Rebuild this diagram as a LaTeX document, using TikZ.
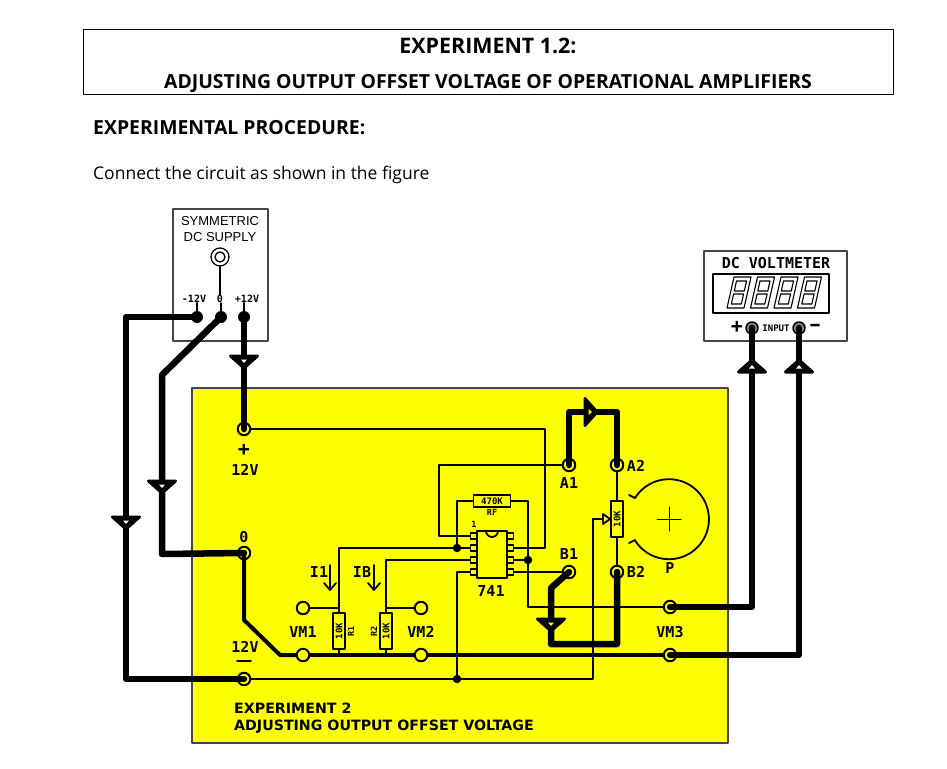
\documentclass[tikz,border=0pt]{standalone}
\usepackage{fontspec}
\setmainfont{Open Sans}
\setsansfont{Liberation Sans}
\setmonofont{DejaVu Sans Mono}
\newfontfamily\boardfont{DejaVu Sans}
\definecolor{boardcolor}{RGB}{255,255,0}
\definecolor{edgecolor}{RGB}{70,70,70}

\begin{document}
\begin{tikzpicture}[x=1pt,y=-1pt,line join=round,line cap=round,
  thinwire/.style={line width=1.8pt},
  midwire/.style={line width=4pt},
  thickwire/.style={line width=6.5pt},
  jack/.style={circle,draw,fill=boardcolor,line width=2pt,minimum size=12.5pt,inner sep=0pt},
  meterjack/.style={circle,draw,fill=gray,line width=1.5pt,minimum size=12pt,inner sep=0pt},
  dotnode/.style={circle,fill=black,minimum size=8.5pt,inner sep=0pt},
  resistor/.style={rectangle,draw,fill=boardcolor,line width=1.5pt,inner sep=0pt},
  icpin/.style={rectangle,draw,fill=boardcolor,line width=1.3pt,minimum size=6pt,inner sep=0pt},
  bigtitle/.style={font=\fontsize{21.4}{22}\selectfont\bfseries,inner sep=0pt},
  titletext/.style={font=\fontsize{19.4}{20}\selectfont\bfseries,inner sep=0pt},
  bodytext/.style={font=\fontsize{17.5}{20}\selectfont,inner sep=0pt,anchor=west},
  boardtext/.style={font=\boardfont\fontsize{14.2}{14}\selectfont\bfseries,inner sep=0pt,anchor=west},
  bigmono/.style={font=\ttfamily\fontsize{15}{15}\selectfont\bfseries,inner sep=0pt},
  smallmono/.style={font=\ttfamily\fontsize{9}{9}\selectfont\bfseries,inner sep=0pt},
  supmono/.style={font=\ttfamily\fontsize{10}{10}\selectfont\bfseries,inner sep=0pt},
  tinymono/.style={font=\ttfamily\fontsize{8.5}{8.5}\selectfont\bfseries,inner sep=0pt},
  supplytext/.style={font=\sffamily\fontsize{13}{14}\selectfont,inner sep=0pt},
  pics/wiretip/.style={code={
    \fill[black,draw=black,line width=3pt] (-13.5,-6) -- (13.5,-6) -- (0,6) -- cycle;
    \fill[#1] (-3,-2.5) -- (3,-2.5) -- (0,1) -- cycle;
  }},
  pics/segdigit/.style={code={
    \draw[line width=1.1pt] (7,-2) -- (24,-2) -- (17,29) -- (0,29) -- cycle;
    \draw[line width=1.1pt] (9.5,2) -- (19.5,2) -- (17.3,12) -- (7.3,12) -- cycle;
    \draw[line width=1.1pt] (6.6,15) -- (16.6,15) -- (14.3,25) -- (4.3,25) -- cycle;
  }}
]
\useasboundingbox (0,0) rectangle (947,768);

% the heading
\draw[line width=1pt] (83,30) rectangle (893,94);
\node[bigtitle] (title1) at (488,46) {EXPERIMENT 1.2:};
\node[titletext] (title2) at (488,84) {ADJUSTING OUTPUT OFFSET VOLTAGE OF OPERATIONAL AMPLIFIERS};
\node[titletext,anchor=west] (procedure) at (93,128) {EXPERIMENTAL PROCEDURE:};
\node[bodytext] (connect) at (93,175) {Connect the circuit as shown in the figure};

% the board
\draw[draw=edgecolor,fill=boardcolor,line width=1.5pt] (192,388) rectangle (728,743);
\node[boardtext] (board1) at (234,708) {EXPERIMENT 2};
\node[boardtext] (board2) at (234,727) {ADJUSTING OUTPUT OFFSET VOLTAGE};

% the supply
\draw[draw=edgecolor,line width=1.2pt] (173,209) rectangle (268,341);
\node[supplytext] (sup1) at (220,221) {SYMMETRIC};
\node[supplytext] (sup2) at (220,237) {DC SUPPLY};
\node[circle,draw,line width=1.3pt,minimum size=18pt,inner sep=0pt] (supout) at (220,257) {};
\node[circle,draw,line width=1.3pt,minimum size=10pt,inner sep=0pt] (supin) at (220,257) {};
\node[supmono] (supneg) at (194,299) {-12V};
\node[supmono] (supzero) at (220,299) {0};
\node[supmono] (suppos) at (247,299) {+12V};
\coordinate (sn) at (197,317);
\coordinate (sz) at (221,317);
\coordinate (sp) at (244,317);
\draw[thinwire] (supout) -- (supzero);
\foreach \c/\l in {sn/supneg,sz/supzero,sp/suppos}
    \draw[thinwire] (\c) -- (\c |- \l.south);

% the voltmeter
\draw[draw=edgecolor,line width=1.3pt] (704,251) rectangle (847,341);
\node[bigmono] (vtitle) at (776,263) {DC VOLTMETER};
\draw[line width=1.3pt] (713,274) rectangle (829,313);
\foreach \i in {0,1,2,3}
    \pic at (727+\i*23.5,279) {segdigit};
\node[meterjack] (vp) at (752,328) {};
\node[meterjack] (vn) at (799,328) {};
\node[font=\bfseries\fontsize{22}{22}\selectfont,inner sep=0pt] (vplus) at (737,328) {+};
\node[font=\bfseries\fontsize{22}{22}\selectfont,inner sep=0pt] (vminus) at (815,328) {–};
\node[smallmono] (vinput) at (776,328) {INPUT};

% the board jacks
\foreach \n/\x/\y in {plus/244/429,zero/244/553,minus/244/679,a1/569/465,a2/617/465,b1/569/572,b2/617/572,
    vma/303/608,vmb/303/655,vmc/421/608,vmd/421/655,vme/670/607,vmf/670/655}
    \node[jack] (\n) at (\x,\y) {};

% the chip
\draw[thinwire,fill=boardcolor] (477,531) rectangle (507,578);
\draw[thinwire] (486,531) arc[start angle=180,end angle=0,radius=6];
\foreach \i/\y in {1/536,2/548,3/560,4/572} {
    \node[icpin] (pl\i) at (473.5,\y) {};
    \node[icpin] (pr\i) at (510.5,\y) {};
}
\node[dotnode] (d1) at (457,548) {};
\node[dotnode] (d2) at (528,560) {};
\node[dotnode] (d3) at (457,679) {};

% the parts
\node[resistor,minimum width=12pt,minimum height=36pt] (r1) at (339,631) {};
\node[resistor,minimum width=12pt,minimum height=36pt] (r2) at (386,631) {};
\node[resistor,minimum width=37pt,minimum height=12pt] (rf) at (492,501) {};
\node[resistor,minimum width=12pt,minimum height=36pt] (pot) at (617,519) {};
\node[smallmono,rotate=90] (r1val) at (r1) {10K};
\node[smallmono,rotate=90] (r2val) at (r2) {10K};
\node[smallmono,rotate=90] (potval) at (pot) {10K};
\node[smallmono] (rfval) at (rf) {470K};
\node[tinymono] (rflab) at (492,512) {RF};
\node[tinymono,rotate=90] (r1lab) at (351,631) {R1};
\node[tinymono,rotate=90] (r2lab) at (374,631) {R2};
\node[tinymono] (pin1) at (474,524) {1};

% the dial
\draw[thinwire] (629,495) -- (635,498) arc[start angle=212,end angle=508,radius=40];
\draw[thinwire] (635,540) -- (629,543);
\draw[line width=1pt] (657,519) -- (681,519);
\draw[line width=1pt] (669,507) -- (669,531);

% the labels
\node[font=\bfseries\fontsize{22}{22}\selectfont,inner sep=0pt] (lplus) at (244,451) {+};
\node[bigmono] (l12a) at (245,470) {12V};
\node[bigmono] (lzero) at (244,537) {0};
\node[bigmono] (l12b) at (245,647) {12V};
\draw[thinwire] (237,661) -- (251,661);
\node[bigmono] (la1) at (569,483) {A1};
\node[bigmono] (la2) at (636,466) {A2};
\node[bigmono] (lb1) at (569,554) {B1};
\node[bigmono] (lb2) at (636,572) {B2};
\node[bigmono] (lp) at (670,568) {P};
\node[bigmono] (lvm1) at (303,632) {VM1};
\node[bigmono] (lvm2) at (421,632) {VM2};
\node[bigmono] (lvm3) at (670,632) {VM3};
\node[bigmono] (lic) at (491,591) {741};
\node[bigmono] (li1) at (319,572) {I1};
\node[bigmono] (lib) at (362,572) {IB};
\draw[thinwire] (330,565) -- (330,589) (324,583) -- (330,590) -- (336,583);
\draw[thinwire] (374,565) -- (374,589) (368,583) -- (374,590) -- (380,583);

% the internal wires
\draw[thinwire] (plus) -| (545,548) -- (pr2);
\draw[thinwire] (a1) -| (439,536) -- (pl1);
\draw[thinwire] (pl2) -- (d1) -- (339,548) -- (r1);
\draw[thinwire] (d1) |- (rf);
\draw[thinwire] (rf) -| (d2);
\draw[thinwire] (pr3) -- (d2);
\draw[thinwire] (d2) |- (vme);
\draw[thinwire] (pr4) -- (b1);
\draw[thinwire] (pl3) -| (r2);
\draw[thinwire] (pl4) -| (d3);
\draw[thinwire] (vma) -- (vma -| r1);
\draw[thinwire] (vmc) -- (vmc -| r2);
\draw[thinwire] (r1) -- (r1 |- vmb);
\draw[thinwire] (r2) -- (r2 |- vmd);
\draw[thinwire] (minus) -- (d3) -| (593,519) -- (604,519);
\draw[thinwire,fill=boardcolor] (603,514) -- (610,519) -- (603,524) -- cycle;
\draw[thinwire] (a2) -- (pot);
\draw[thinwire] (pot) -- (b2);
\draw[midwire] (zero.center) -- (244,620) -- (280,655) -- (vmb);
\draw[midwire] (vmb) -- (vmd);
\draw[midwire] (vmd) -- (vmf);

% the external wires
\draw[thickwire] (sp) -- (plus.center);
\draw[thickwire] (sz) -- (162,375) -- (162,554) -- (zero.center);
\draw[thickwire] (sn) -- (126,317) -- (126,679) -- (minus.center);
\draw[thickwire] (vp.center) -- (752,607) -- (vme.center);
\draw[thickwire] (vn.center) -- (799,655) -- (vmf.center);
\draw[thickwire] (a1.center) -- (569,412) -- (617,412) -- (a2.center);
\draw[thickwire] (b1.center) -- (551,588) -- (551,644) -- (617,644) -- (b2.center);
\fill (sn) circle (6);
\fill (sz) circle (6);
\fill (sp) circle (6);

% the tips
\pic at (244,362) {wiretip=white};
\pic at (162,487) {wiretip=white};
\pic at (126,523) {wiretip=white};
\pic[rotate=180] at (752,366) {wiretip=white};
\pic[rotate=180] at (799,366) {wiretip=white};
\pic[rotate=90] at (591,412) {wiretip=boardcolor};
\pic at (551,625) {wiretip=boardcolor};

\end{tikzpicture}
\end{document}
